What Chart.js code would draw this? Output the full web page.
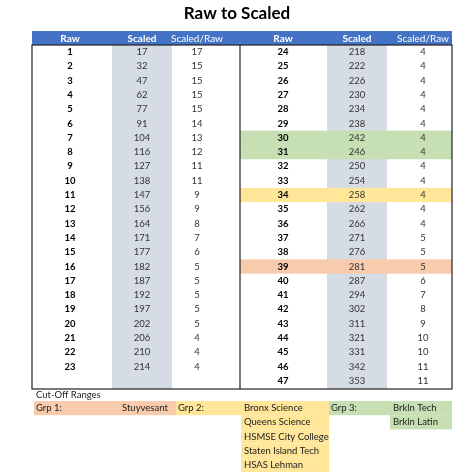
<!DOCTYPE html><html><head><script src="https://cdn.jsdelivr.net/npm/chart.js"></script>
<style>html,body{margin:0;padding:0;background:#fff}#w{width:474px;height:474px}</style></head><body><div id="w"><canvas id="c"></canvas></div>
<script>
const title = "Raw to Scaled";
const headers = ["Raw","Scaled","Scaled/Raw","Raw","Scaled","Scaled/Raw"];
const raw = [];for(let i=1;i<=47;i++)raw.push(i);
const scaled = [17,32,47,62,77,91,104,116,127,138,147,156,164,171,177,182,187,192,197,202,206,210,214,218,222,226,230,234,238,242,246,250,254,258,262,266,271,276,281,287,294,302,311,321,331,342,353];
const ratio = [17,15,15,15,15,14,13,12,11,11,9,9,8,7,6,5,5,5,5,5,4,4,4,4,4,4,4,4,4,4,4,4,4,4,4,4,5,5,5,6,7,8,9,10,10,11,11];
const highlight = {30:"#c6e0b4",31:"#c6e0b4",34:"#ffe699",39:"#f8cbad"};
const cutTitle = "Cut-Off Ranges";
const groups = [
 {label:"Grp 1:", schools:["Stuyvesant"], color:"#f8cbad"},
 {label:"Grp 2:", schools:["Bronx Science","Queens Science","HSMSE City College","Staten Island Tech","HSAS Lehman"], color:"#ffe699"},
 {label:"Grp 3:", schools:["Brkln Tech","Brkln Latin"], color:"#c6e0b4"}
];
const FONT = "Lato, 'Open Sans', sans-serif";
const colX = [70,142,197,283,357,423];
const tablePlugin = {id:"table",afterDraw(ch){
 const c=ch.ctx, X=v=>ch.scales.x.getPixelForValue(v), Y=v=>ch.scales.y.getPixelForValue(v);
 c.save();
 c.textAlign="center";c.textBaseline="middle";
 c.fillStyle="#000";c.font="bold 17px "+FONT;c.fillText(title,X(237),Y(14));
 // header
 c.fillStyle="#4472c4";c.fillRect(X(32),Y(31),X(452)-X(32),Y(45)-Y(31));
 c.font="10px "+FONT;c.fillStyle="#fff";
 headers.forEach((h,i)=>{c.font=(i%3==2?"":"bold ")+"10px "+FONT;c.fillText(h,X(colX[i]),Y(38.5));});
 const rh=14.3, y0=52;
 // shaded scaled columns
 c.fillStyle="#d6dce4";
 c.fillRect(X(112),Y(45),X(172)-X(112),Y(389)-Y(45));
 c.fillRect(X(327),Y(45),X(387)-X(327),Y(389)-Y(45));
 // highlights
 for(const k in highlight){const r=k-24;c.fillStyle=highlight[k];c.fillRect(X(240),Y(y0+r*rh-rh/2),X(452)-X(240),Y(rh)-Y(0));}
 // borders
 c.strokeStyle="#222";c.lineWidth=1.2;
 c.strokeRect(X(32),Y(45),X(452)-X(32),Y(389)-Y(45));
 c.beginPath();c.moveTo(X(240),Y(45));c.lineTo(X(240),Y(389));c.stroke();
 c.fillStyle="#000";
 for(let i=0;i<47;i++){
  const left=i<23, r=left?i:i-23, y=Y(y0+r*rh), b=left?0:3;
  c.font="bold 9.5px "+FONT;c.fillStyle="#000";c.fillText(raw[i],X(colX[b]),y);
  c.font="9.5px "+FONT;c.fillStyle="#333";c.fillText(scaled[i],X(colX[b+1]),y);c.fillText(ratio[i],X(colX[b+2]),y);
 }
 // cut-off
 c.textAlign="left";c.font="9.5px "+FONT;c.fillStyle="#222";c.fillText(cutTitle,X(36),Y(395));
 const gx=[[34,176,122],[176,329,244],[329,452,393]], gy=401, gh=14.2;
 groups.forEach((g,i)=>{
  const [a,b,s]=gx[i];
  c.fillStyle=g.color;c.fillRect(X(a),Y(gy),X(b)-X(a),Y(gh)-Y(0));
  g.schools.forEach((sc,j)=>{if(j>0){c.fillStyle=g.color;c.fillRect(X(s-3),Y(gy+j*gh),X(b)-X(s-3),Y(gh)-Y(0));}});
  c.fillStyle="#222";c.font="9.5px "+FONT;c.fillText(g.label,X(a+2),Y(gy+gh/2));
  g.schools.forEach((sc,j)=>c.fillText(sc,X(s),Y(gy+j*gh+gh/2)));
 });
 c.restore();
}};
new Chart(document.getElementById("c"),{type:"scatter",data:{datasets:[{data:[]}]},
 options:{responsive:true,maintainAspectRatio:false,animation:false,layout:{padding:0},
  plugins:{legend:{display:false},tooltip:{enabled:false}},
  scales:{x:{type:"linear",min:0,max:474,display:false},y:{type:"linear",min:0,max:474,reverse:true,display:false}}},
 plugins:[tablePlugin]});
</script></body></html>
